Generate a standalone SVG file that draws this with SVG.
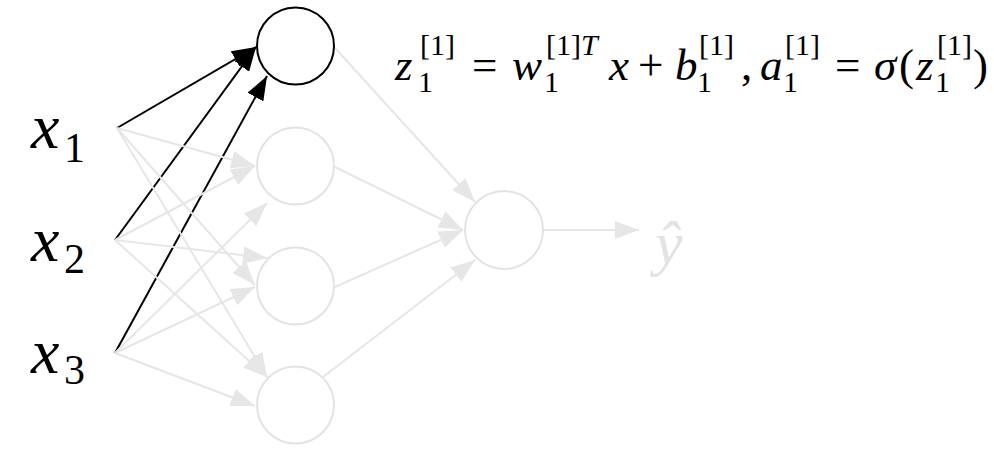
<svg xmlns="http://www.w3.org/2000/svg" width="994" height="460" viewBox="0 0 994 460">
<style>
.bk{stroke:#000;stroke-width:2;fill:none}
.gy{stroke:#e6e6e6;stroke-width:2;fill:none}
.nb{stroke:#000;stroke-width:2;fill:#fff}
.ng{stroke:#e3e3e3;stroke-width:2;fill:#fff}
text{font-family:'Liberation Serif','DejaVu Serif',serif}
.it{font-style:italic}
.eq{font-size:45px}
.sc{font-size:30px}
</style>
<defs>
<marker id="ab" viewBox="0 0 24 18" refX="24" refY="9" markerWidth="24" markerHeight="18" markerUnits="userSpaceOnUse" orient="auto"><path d="M0,0 L24,9 L0,18 z" fill="#000"/></marker>
<marker id="ag" viewBox="0 0 24 18" refX="24" refY="9" markerWidth="24" markerHeight="18" markerUnits="userSpaceOnUse" orient="auto"><path d="M0,0 L24,9 L0,18 z" fill="#e6e6e6"/></marker>
</defs>
<g id="connectors">
<line class="bk" x1="117" y1="128" x2="256" y2="47" marker-end="url(#ab)"/>
<line class="bk" x1="115" y1="240" x2="256" y2="47" marker-end="url(#ab)"/>
<line class="bk" x1="115" y1="353" x2="267" y2="76" marker-end="url(#ab)"/>
<line class="gy" x1="117" y1="128" x2="255" y2="166" marker-end="url(#ag)"/>
<line class="gy" x1="115" y1="240" x2="255" y2="166" marker-end="url(#ag)"/>
<line class="gy" x1="115" y1="353" x2="267" y2="203" marker-end="url(#ag)"/>
<line class="gy" x1="117" y1="128" x2="255" y2="285" marker-end="url(#ag)"/>
<line class="gy" x1="115" y1="240" x2="267" y2="258" marker-end="url(#ag)"/>
<line class="gy" x1="115" y1="353" x2="255" y2="287" marker-end="url(#ag)"/>
<line class="gy" x1="117" y1="128" x2="267" y2="377" marker-end="url(#ag)"/>
<line class="gy" x1="115" y1="240" x2="267" y2="377" marker-end="url(#ag)"/>
<line class="gy" x1="115" y1="353" x2="255" y2="406" marker-end="url(#ag)"/>
<line class="gy" x1="335" y1="48" x2="475" y2="202" marker-end="url(#ag)"/>
<line class="gy" x1="335" y1="167" x2="463" y2="230" marker-end="url(#ag)"/>
<line class="gy" x1="335" y1="287" x2="463" y2="230" marker-end="url(#ag)"/>
<line class="gy" x1="323" y1="377" x2="475" y2="260" marker-end="url(#ag)"/>
<line class="gy" x1="543" y1="230" x2="639" y2="230" marker-end="url(#ag)"/>
</g>
<g id="x1"><text class="it" x="31" y="148" font-size="64">x</text><text x="64" y="162" font-size="42">1</text></g>
<g id="x2"><text class="it" x="31" y="261" font-size="64">x</text><text x="64" y="273" font-size="42">2</text></g>
<g id="x3"><text class="it" x="31" y="373" font-size="64">x</text><text x="64" y="384" font-size="42">3</text></g>
<g id="h1"><circle class="nb" cx="295.5" cy="46" r="38.5"/></g>
<g id="h2"><circle class="ng" cx="295.5" cy="166" r="38.5"/></g>
<g id="h3"><circle class="ng" cx="295.5" cy="286" r="38.5"/></g>
<g id="h4"><circle class="ng" cx="295.5" cy="405" r="38.5"/></g>
<g id="out"><circle class="ng" cx="504" cy="230" r="39"/></g>
<g id="yhat"><text class="it" x="655" y="264" font-size="62" fill="#e3e3e3">ŷ</text></g>
<g id="equation">
<text class="it eq" x="395" y="80">z</text>
<text class="sc" x="420" y="55">[1]</text>
<text class="sc" x="418" y="92">1</text>
<text class="eq" x="472" y="80">=</text>
<text class="it eq" x="512" y="80">w</text>
<text class="sc" x="546" y="55">[1]<tspan class="it">T</tspan></text>
<text class="sc" x="544" y="92">1</text>
<text class="it eq" x="609" y="80">x</text>
<text class="eq" x="638" y="80">+</text>
<text class="it eq" x="675" y="80">b</text>
<text class="sc" x="699" y="55">[1]</text>
<text class="sc" x="697" y="92">1</text>
<text class="eq" x="741" y="80">,</text>
<text class="it eq" x="760" y="80">a</text>
<text class="sc" x="785" y="55">[1]</text>
<text class="sc" x="783" y="92">1</text>
<text class="eq" x="835" y="80">=</text>
<text class="it eq" x="874" y="80">σ</text>
<text class="eq" x="899" y="80">(</text>
<text class="it eq" x="916" y="80">z</text>
<text class="sc" x="937" y="55">[1]</text>
<text class="sc" x="935" y="92">1</text>
<text class="eq" x="973" y="80">)</text>
</g>
</svg>
